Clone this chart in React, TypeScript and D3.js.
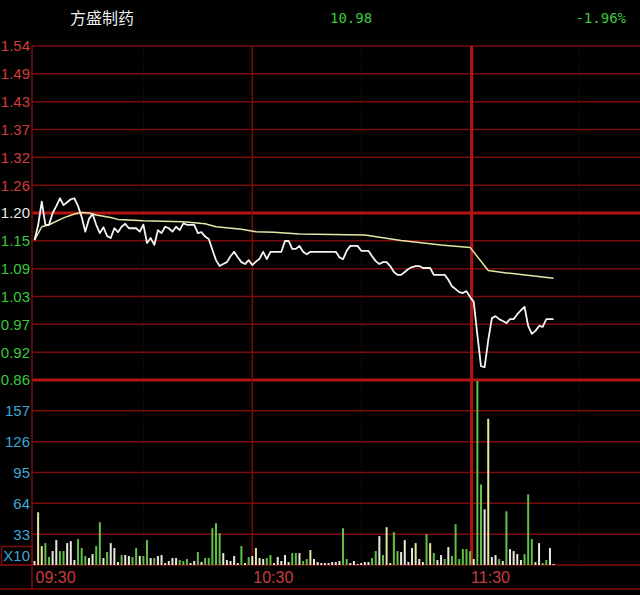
import React from 'react';
import * as d3 from 'd3';

const title = '方盛制药';
const lastPrice = '10.98';
const changePct = '-1.96%';

const priceTicks = ['1.54', '1.49', '1.43', '1.37', '1.32', '1.26', '1.20', '1.15', '1.09', '1.03', '0.97', '0.92', '0.86'];
const refTick = '1.20';
const volumeTicks = [33, 64, 95, 126, 157];
const volumeUnit = 'X10';
const timeLabels = [
  { i: 0, label: '09:30' },
  { i: 60, label: '10:30' },
  { i: 120, label: '11:30' },
];
const solidVerticals = [60];
const sessionBreak = 120;
const dottedVerticals = [30, 90, 150];

// price per minute index (0 = 09:30)
const priceSeries = [
  1.145, 1.175, 1.223, 1.176, 1.176, 1.2, 1.214, 1.23, 1.216, 1.222,
  1.228, 1.23, 1.214, 1.192, 1.162, 1.188, 1.198, 1.176, 1.159, 1.171,
  1.153, 1.149, 1.169, 1.161, 1.172, 1.178, 1.169, 1.169, 1.169, 1.162,
  1.176, 1.139, 1.149, 1.135, 1.165, 1.159, 1.172, 1.169, 1.162, 1.172,
  1.165, 1.179, 1.176, 1.176, 1.176, 1.159, 1.161, 1.152, 1.147, 1.125,
  1.104, 1.092, 1.096, 1.1, 1.112, 1.121, 1.11, 1.1, 1.096, 1.104,
  1.094, 1.101, 1.107, 1.121, 1.106, 1.121, 1.121, 1.121, 1.121, 1.143,
  1.143, 1.127, 1.127, 1.133, 1.121, 1.116, 1.121, 1.121, 1.121, 1.121,
  1.121, 1.121, 1.121, 1.121, 1.11, 1.106, 1.123, 1.133, 1.133, 1.133,
  1.123, 1.123, 1.123, 1.112, 1.102, 1.096, 1.1, 1.1, 1.092, 1.08,
  1.074, 1.074, 1.08, 1.086, 1.09, 1.092, 1.092, 1.088, 1.088, 1.088,
  1.074, 1.074, 1.074, 1.074, 1.064, 1.051, 1.045, 1.039, 1.037, 1.041,
  1.029, 1.019, 0.952, 0.888, 0.886, 0.941, 0.986, 0.99, 0.984, 0.98,
  0.976, 0.984, 0.984, 0.994, 1.002, 1.009, 0.97, 0.954, 0.96, 0.97,
  0.968, 0.984, 0.984, 0.984,
];

// average price line, [minute index, value]
const avgIdx = [0, 2, 4, 8, 11, 13, 15, 17, 21, 23, 30, 41, 47, 50, 57, 61, 66, 73, 91, 101, 112, 120, 125, 130, 143];
const avgVal = [1.145, 1.172, 1.176, 1.19, 1.198, 1.201, 1.2, 1.196, 1.191, 1.187, 1.184, 1.182, 1.178, 1.172, 1.167, 1.162, 1.161, 1.157, 1.155, 1.144, 1.135, 1.13, 1.083, 1.078, 1.067];

// volume per minute (x10)
const volumes = [
  6, 55, 21, 24, 10, 16, 27, 16, 16, 24,
  26, 7, 28, 19, 11, 9, 13, 21, 45, 9,
  15, 24, 19, 5, 12, 12, 11, 10, 19, 11,
  11, 27, 9, 9, 11, 12, 4, 6, 9, 9,
  7, 6, 8, 4, 6, 15, 5, 9, 9, 39,
  44, 34, 14, 7, 6, 11, 4, 21, 4, 10,
  11, 19, 9, 8, 9, 12, 4, 10, 6, 12,
  5, 14, 14, 14, 6, 8, 17, 8, 5, 4,
  4, 4, 5, 5, 6, 39, 8, 4, 6, 3,
  4, 5, 5, 9, 16, 31, 12, 40, 4, 35,
  16, 15, 27, 5, 19, 24, 8, 5, 33, 24,
  14, 7, 12, 8, 20, 11, 43, 8, 18, 18,
  16, 8, 187, 83, 58, 149, 10, 12, 8, 6,
  56, 18, 16, 13, 7, 13, 73, 28, 5, 24,
  4, 7, 19, 3,
];
const volumeKinds =
  'wyyggwwggw' + 'wwgggwwggw' + 'gwwwgwwggw' + 'ggwgwwwwww' + 'gggwwgwggg' +
  'ggwwwwwgwg' + 'wywwggwwww' + 'wggwggywww' + 'wwwwwggwww' + 'wwwggwgywg' +
  'gwwwwywwgy' + 'gwwgwggggg' + 'gwggwywwgw' + 'gwwwwgggww' + 'ggww';

const W = 640;
const H = 595;
const LEFT = 32;
const PRICE_TOP = 46;
const PRICE_BOTTOM = 380;
const VOL_BOTTOM = 565;
const AXIS_BOTTOM = 589;

const COLORS = {
  bg: '#000000',
  grid: '#7a0c0c',
  gridStrong: '#b41414',
  dotted: '#4a0808',
  up: '#d23c3c',
  down: '#3cc83c',
  ref: '#e8e8e8',
  vol: '#3ea6d6',
  time: '#c83c3c',
  price: '#f4f4f4',
  avg: '#e6e6a6',
  barG: '#62c04a',
  barW: '#e8e8dc',
  barY: '#e6e6a0',
};

export default function App() {
  const x = d3.scaleLinear().domain([0, 240]).range([34.5, 34.5 + 3.63 * 240]);
  const y = d3.scaleLinear().domain([0.86, 1.54]).range([PRICE_BOTTOM, PRICE_TOP]);
  const tickY = d3.scalePoint<string>().domain(priceTicks).range([PRICE_TOP, PRICE_BOTTOM]);
  const vy = d3.scaleLinear().domain([2, 188]).range([VOL_BOTTOM, PRICE_BOTTOM]);
  const volGrid = [...volumeTicks];

  const priceLine = d3
    .line<number>()
    .x((_, i) => x(i))
    .y((d) => y(d))(priceSeries) as string;
  const avgLine = d3
    .line<number>()
    .x((d) => x(d))
    .y((_, i) => y(avgVal[i]))(avgIdx) as string;

  const barColor = (k: string) => (k === 'g' ? COLORS.barG : k === 'y' ? COLORS.barY : COLORS.barW);
  const labelColor = (t: string) => (t === refTick ? COLORS.ref : +t > +refTick ? COLORS.up : COLORS.down);
  const font = '"Liberation Sans", Arial, sans-serif';

  return (
    <svg
      width={W}
      height={H}
      style={{ position: 'absolute', left: 0, top: 0, display: 'block', background: COLORS.bg }}
    >
      <rect x={0} y={0} width={W} height={H} fill={COLORS.bg} />

      {/* header */}
      <text x={70} y={24} fill="#f0f0f0" fontSize={16} fontFamily='"Noto Sans CJK SC", sans-serif'>
        {title}
      </text>
      <text x={330} y={23} fill={COLORS.down} fontSize={14} fontFamily='"DejaVu Sans Mono", monospace'>
        {lastPrice}
      </text>
      <text x={626} y={23} textAnchor="end" fill={COLORS.down} fontSize={14} fontFamily='"DejaVu Sans Mono", monospace'>
        {changePct}
      </text>

      {/* dotted verticals */}
      {dottedVerticals.map((i) => (
        <line key={'dv' + i} x1={x(i)} x2={x(i)} y1={PRICE_TOP} y2={VOL_BOTTOM} stroke={COLORS.dotted} strokeWidth={1} strokeDasharray="1,2" />
      ))}

      {/* price grid */}
      {priceTicks.map((t) => {
        const strong = t === refTick || t === priceTicks[priceTicks.length - 1];
        return (
          <line
            key={'pg' + t}
            x1={LEFT}
            x2={W}
            y1={tickY(t)}
            y2={tickY(t)}
            stroke={strong ? COLORS.gridStrong : COLORS.grid}
            strokeWidth={strong ? 3 : 1.5}
          />
        );
      })}
      {/* volume grid */}
      {volGrid.map((v) => (
        <line key={'vg' + v} x1={LEFT} x2={W} y1={vy(v)} y2={vy(v)} stroke={COLORS.grid} strokeWidth={1.5} />
      ))}
      <line x1={0} x2={W} y1={VOL_BOTTOM} y2={VOL_BOTTOM} stroke={COLORS.grid} strokeWidth={1.5} />
      <line x1={0} x2={W} y1={AXIS_BOTTOM} y2={AXIS_BOTTOM} stroke={COLORS.grid} strokeWidth={1.5} />

      {/* verticals */}
      <line x1={LEFT} x2={LEFT} y1={PRICE_TOP} y2={AXIS_BOTTOM} stroke={COLORS.grid} strokeWidth={1.5} />
      {solidVerticals.map((i) => (
        <line key={'sv' + i} x1={x(i)} x2={x(i)} y1={PRICE_TOP} y2={VOL_BOTTOM} stroke={COLORS.grid} strokeWidth={1.5} />
      ))}
      <line x1={x(sessionBreak) + 1.5} x2={x(sessionBreak) + 1.5} y1={PRICE_TOP} y2={VOL_BOTTOM} stroke={COLORS.gridStrong} strokeWidth={3} />

      {/* price tick labels */}
      {priceTicks.map((t) => (
        <text
          key={'pl' + t}
          x={30}
          y={tickY(t)}
          dy="0.36em"
          textAnchor="end"
          fill={labelColor(t)}
          fontSize={15}
          fontFamily={font}
        >
          {t}
        </text>
      ))}
      {volumeTicks.map((v) => (
        <text key={'vl' + v} x={30} y={vy(v)} dy="0.36em" textAnchor="end" fill={COLORS.vol} fontSize={15} fontFamily={font}>
          {v}
        </text>
      ))}
      <rect x={1.5} y={546.5} width={30.5} height={18.5} fill="none" stroke={COLORS.grid} strokeWidth={1.5} />
      <text x={30} y={556} dy="0.36em" textAnchor="end" fill={COLORS.vol} fontSize={15} fontFamily={font}>
        {volumeUnit}
      </text>

      {/* time labels */}
      {timeLabels.map((t) => (
        <text key={'tl' + t.i} x={x(t.i) + 1} y={583} fill={COLORS.time} fontSize={16} fontFamily={font}>
          {t.label}
        </text>
      ))}

      {/* volume bars */}
      {volumes.map((v, i) => (
        <rect
          key={'vb' + i}
          x={x(i) - 1}
          y={vy(v)}
          width={2}
          height={Math.max(0, VOL_BOTTOM - vy(v))}
          fill={barColor(volumeKinds[i])}
        />
      ))}

      {/* lines */}
      <path d={avgLine} fill="none" stroke={COLORS.avg} strokeWidth={1.5} strokeLinejoin="round" />
      <path d={priceLine} fill="none" stroke={COLORS.price} strokeWidth={1.8} strokeLinejoin="round" />
    </svg>
  );
}
